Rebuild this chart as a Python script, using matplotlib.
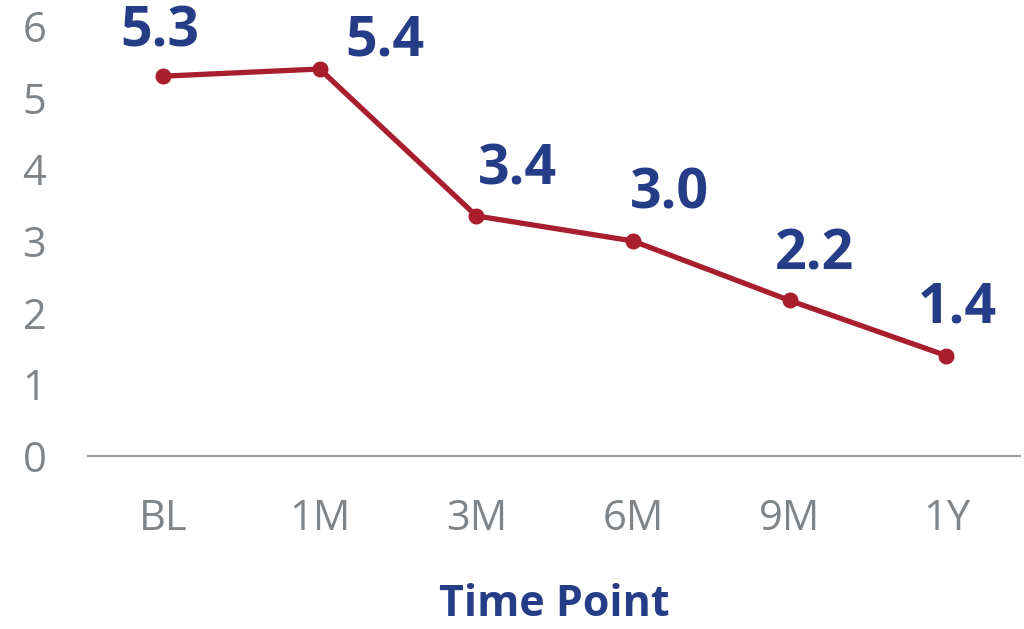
import matplotlib
matplotlib.use("Agg")
import matplotlib.pyplot as plt

# data
time_points = ["BL", "1M", "3M", "6M", "9M", "1Y"]
scores = [5.3, 5.4, 3.35, 3.0, 2.17, 1.4]
score_labels = ["5.3", "5.4", "3.4", "3.0", "2.2", "1.4"]
y_ticks = [0, 1, 2, 3, 4, 5, 6]

# label offsets in pixels (dx, dy)
label_offsets = [(-3, 44), (65, 28), (41, 46), (36, 47), (25, 45), (11, 48)]

RED = "#A91E2D"
BLUE = "#253C86"
GRAY = "#7F8488"
AXIS_GRAY = "#9A9EA2"

plt.rcParams["font.family"] = ["Open Sans", "DejaVu Sans"]

fig = plt.figure(figsize=(10.24, 6.29), dpi=100)
ax = fig.add_axes([88 / 1024, 1 - 456 / 629, (1020 - 88) / 1024, 430 / 629])

x = list(range(len(time_points)))
ax.plot(x, scores, color=RED, linewidth=3.8, marker="o", markersize=10.5,
        markerfacecolor=RED, markeredgecolor=RED, solid_capstyle="round")

for xi, yi, lab, (dx, dy) in zip(x, scores, score_labels, label_offsets):
    ax.annotate(lab, (xi, yi), xytext=(dx, dy), textcoords="offset pixels",
                ha="center", va="center", fontsize=40, fontweight="bold",
                color=BLUE)

ax.set_xlim(-0.479, 5.47)
ax.set_ylim(0, 6)
ax.set_xticks(x)
ax.set_xticklabels(time_points)
ax.set_yticks(y_ticks)

for s in ["top", "right", "left"]:
    ax.spines[s].set_visible(False)
ax.spines["bottom"].set_color(AXIS_GRAY)
ax.spines["bottom"].set_linewidth(1.6)

ax.tick_params(axis="both", length=0, labelsize=30, colors=GRAY)
ax.tick_params(axis="y", pad=30)
ax.tick_params(axis="x", pad=30)

ax.set_xlabel("Time Point", fontsize=31, fontweight="bold", color=BLUE,
              labelpad=31)

fig.savefig("out.png", dpi=100)
